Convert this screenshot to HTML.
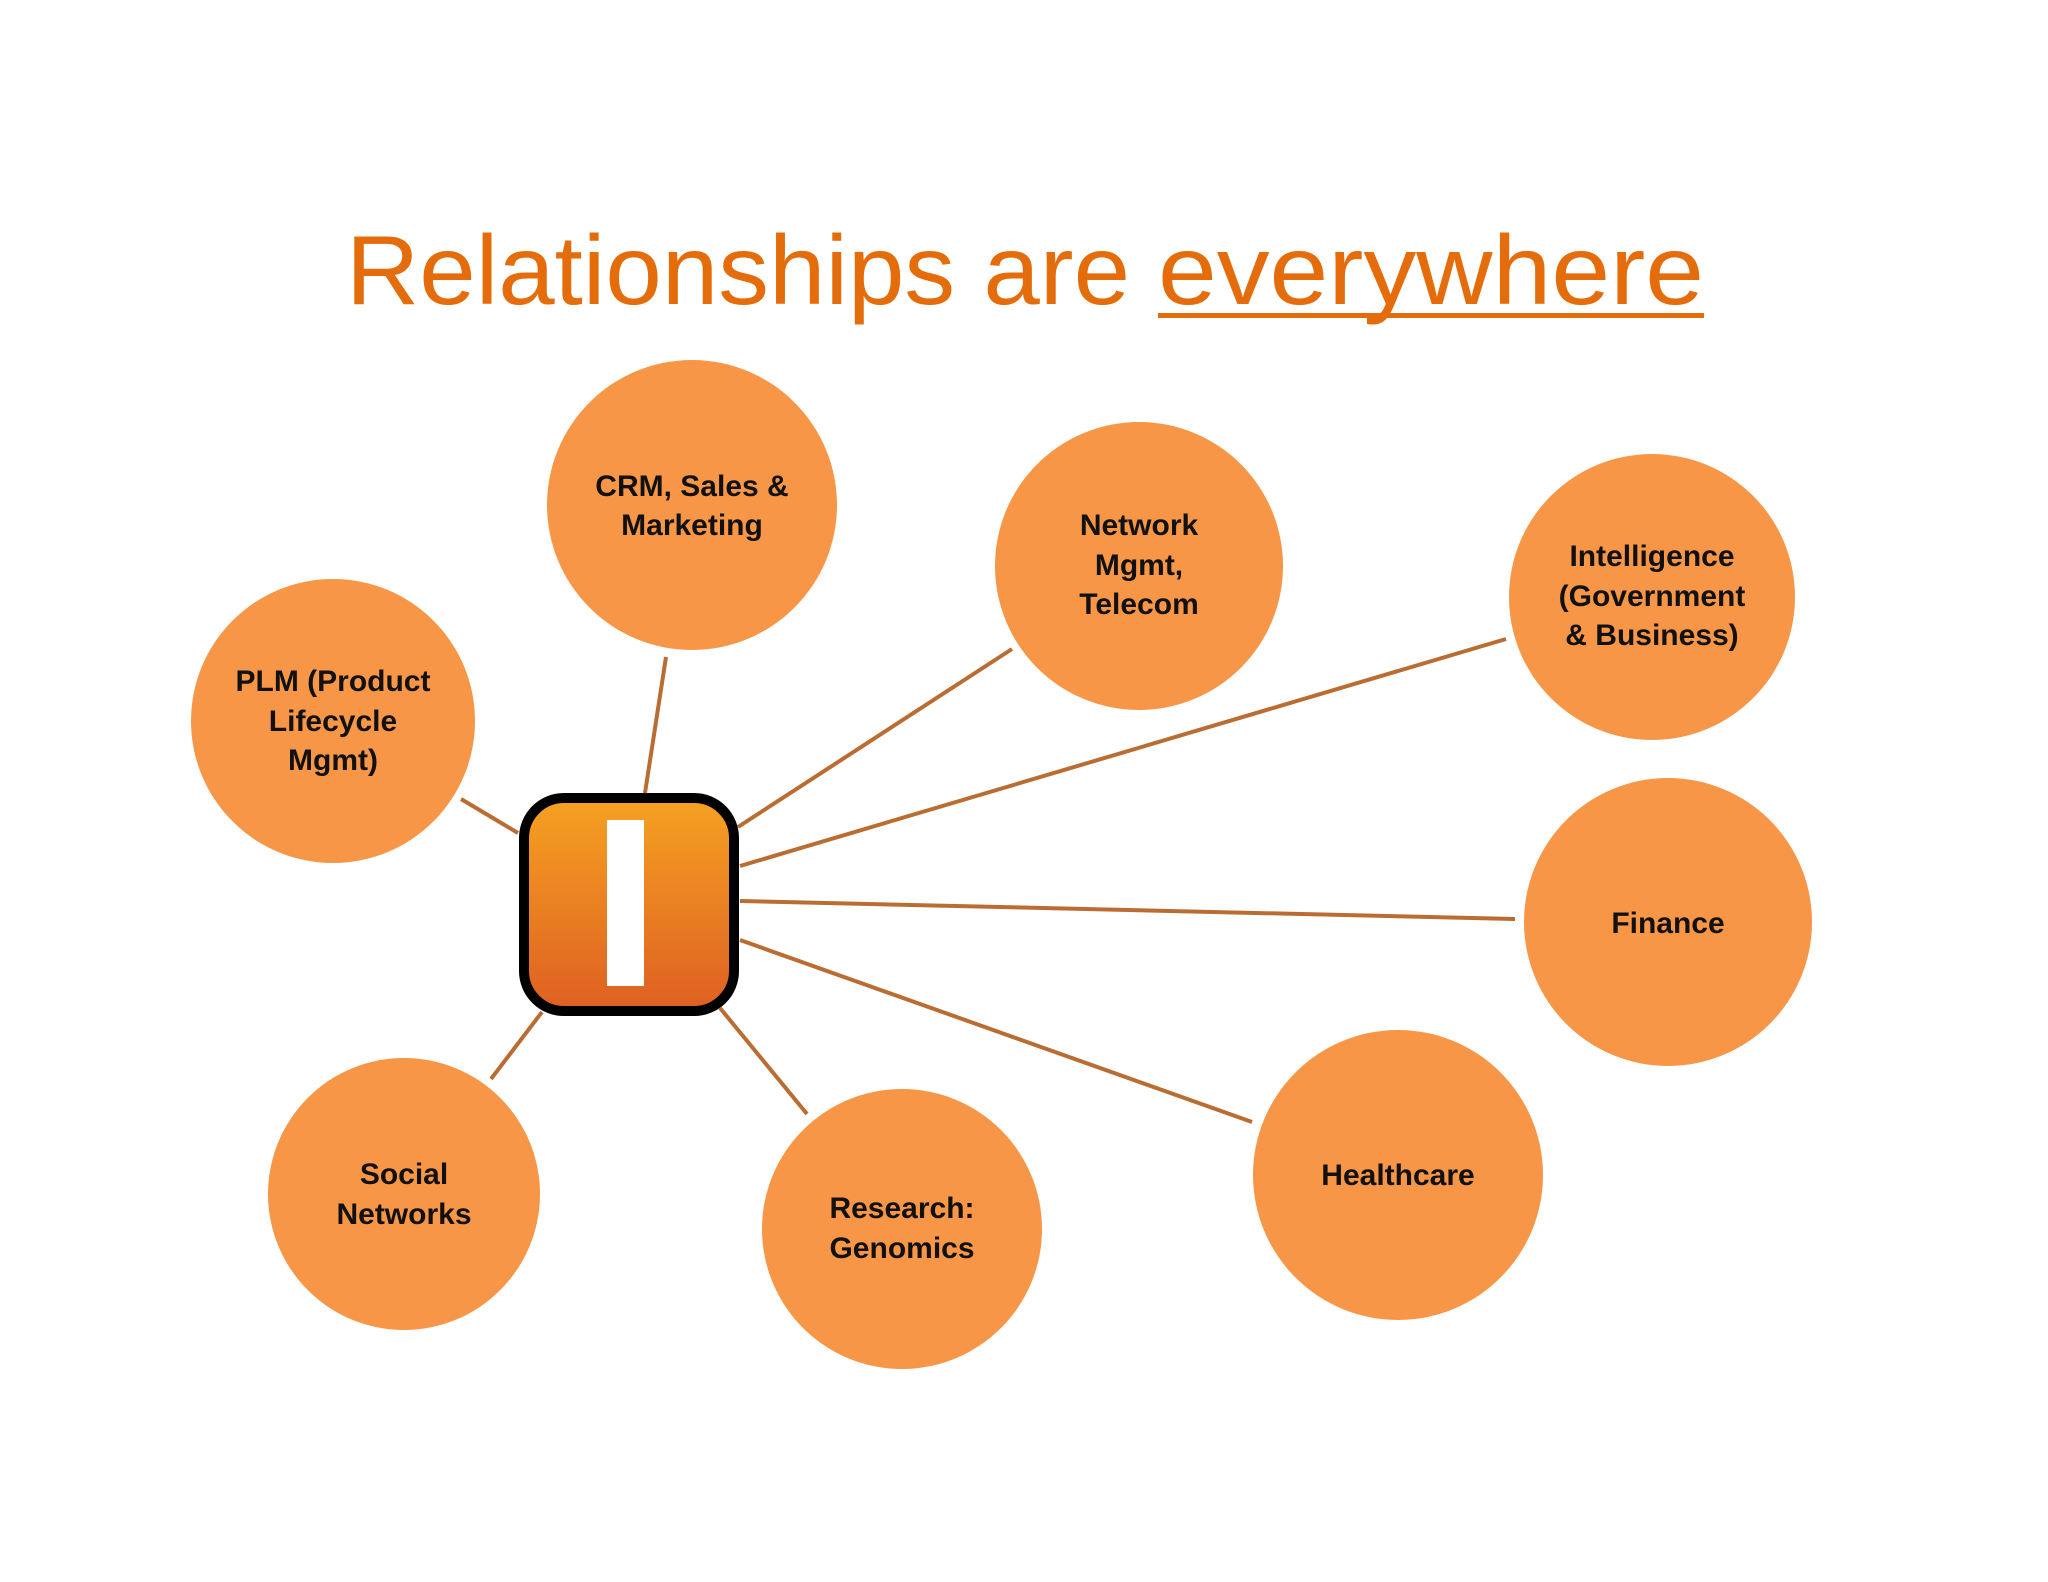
<!DOCTYPE html>
<html><head><meta charset="utf-8"><style>html,body{margin:0;padding:0;background:#fff}svg{display:block}</style></head>
<body>
<svg width="2048" height="1582" viewBox="0 0 2048 1582" xmlns="http://www.w3.org/2000/svg">
<defs>
<linearGradient id="g" x1="0" y1="0" x2="0" y2="1">
<stop offset="0" stop-color="#f6a222"/><stop offset="1" stop-color="#de5f22"/>
</linearGradient>
</defs>
<g font-family="Liberation Sans, sans-serif" fill="#e46c0a" font-size="98">
<text x="346" y="304" textLength="784" lengthAdjust="spacingAndGlyphs">Relationships are</text>
<text x="1158" y="304" textLength="546" lengthAdjust="spacingAndGlyphs">everywhere</text>
</g>
<rect x="1158" y="313" width="546" height="5" fill="#e46c0a"/>
<g stroke="#b96d32" stroke-width="4">
<line x1="666" y1="657" x2="645" y2="793"/>
<line x1="1012" y1="649" x2="738" y2="827"/>
<line x1="1506" y1="639" x2="740" y2="866"/>
<line x1="1515" y1="919" x2="740" y2="901"/>
<line x1="1252" y1="1122" x2="740" y2="940"/>
<line x1="807" y1="1114" x2="720" y2="1008"/>
<line x1="491" y1="1079" x2="542" y2="1012"/>
<line x1="461" y1="799" x2="518" y2="833"/>
</g>
<g fill="#f79646">
<circle cx="692" cy="505" r="145"/>
<circle cx="1139" cy="566" r="144"/>
<circle cx="1652" cy="597" r="143"/>
<circle cx="333" cy="721" r="142"/>
<circle cx="1668" cy="922" r="144"/>
<circle cx="1398" cy="1175" r="145"/>
<circle cx="902" cy="1229" r="140"/>
<circle cx="404" cy="1194" r="136"/>
</g>
<rect x="524" y="798" width="210" height="213" rx="40" fill="url(#g)" stroke="#000" stroke-width="10"/>
<rect x="607" y="820" width="37" height="166" fill="#fff"/>
<g font-family="Liberation Sans, sans-serif" font-weight="bold" font-size="30" fill="#111" text-anchor="middle">
<text x="692" y="496">CRM, Sales &amp;</text><text x="692" y="535">Marketing</text>
<text x="1139" y="535">Network</text><text x="1139" y="575">Mgmt,</text><text x="1139" y="614">Telecom</text>
<text x="1652" y="566">Intelligence</text><text x="1652" y="606">(Government</text><text x="1652" y="645">&amp; Business)</text>
<text x="333" y="691">PLM (Product</text><text x="333" y="731">Lifecycle</text><text x="333" y="770">Mgmt)</text>
<text x="1668" y="933">Finance</text>
<text x="1398" y="1185">Healthcare</text>
<text x="902" y="1218">Research:</text><text x="902" y="1258">Genomics</text>
<text x="404" y="1184">Social</text><text x="404" y="1224">Networks</text>
</g>
</svg>
</body></html>
